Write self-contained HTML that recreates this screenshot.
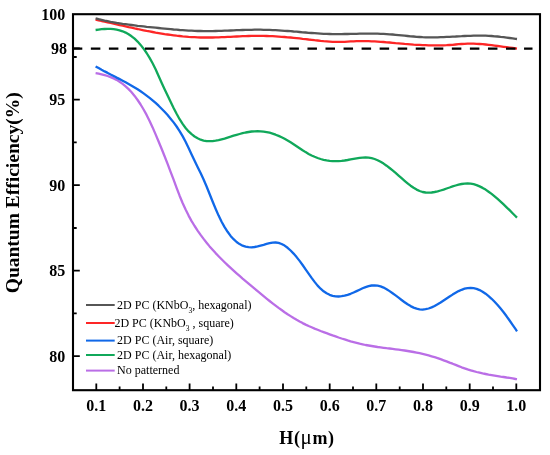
<!DOCTYPE html>
<html><head><meta charset="utf-8"><title>Quantum Efficiency vs H</title>
<style>html,body{margin:0;padding:0;background:#fff}svg{display:block}text{font-family:"Liberation Serif",serif;fill:#000}.b{font-weight:bold}</style></head><body>
<svg width="550" height="455" viewBox="0 0 550 455">
<rect width="550" height="455" fill="#fff"/>
<path d="M95.6,73.2 L98.6,73.7 L101.6,74.3 L104.6,75.1 L107.6,76.0 L110.6,77.1 L113.6,78.4 L116.6,79.9 L119.6,81.8 L122.6,83.9 L125.6,86.3 L128.6,89.1 L131.6,92.3 L134.6,95.9 L137.6,100.0 L140.6,104.5 L143.6,109.5 L146.6,114.9 L149.6,120.9 L152.6,127.4 L155.6,134.4 L158.6,141.5 L161.6,148.8 L164.6,156.3 L167.6,163.9 L170.6,171.8 L173.6,179.7 L176.6,187.8 L179.6,195.7 L182.6,203.0 L185.6,209.6 L188.6,215.6 L191.6,221.1 L194.6,226.0 L197.6,230.6 L200.6,234.9 L203.6,238.9 L206.6,242.7 L209.6,246.4 L212.6,249.8 L215.6,253.1 L218.6,256.2 L221.6,259.2 L224.6,262.2 L227.6,265.1 L230.6,267.9 L233.6,270.6 L236.6,273.3 L239.6,275.9 L242.6,278.6 L245.6,281.1 L248.6,283.7 L251.6,286.2 L254.6,288.7 L257.6,291.2 L260.6,293.7 L263.6,296.2 L266.6,298.6 L269.6,301.0 L272.6,303.3 L275.6,305.6 L278.6,307.9 L281.6,310.0 L284.6,312.2 L287.6,314.2 L290.6,316.1 L293.6,318.0 L296.6,319.8 L299.6,321.5 L302.6,323.1 L305.6,324.6 L308.6,326.0 L311.6,327.3 L314.6,328.6 L317.6,329.8 L320.6,331.0 L323.6,332.1 L326.6,333.2 L329.6,334.3 L332.6,335.4 L335.6,336.4 L338.6,337.5 L341.6,338.5 L344.6,339.4 L347.6,340.4 L350.6,341.3 L353.6,342.1 L356.6,342.9 L359.6,343.7 L362.6,344.3 L365.6,345.0 L368.6,345.5 L371.6,346.0 L374.6,346.5 L377.6,347.0 L380.6,347.4 L383.6,347.8 L386.6,348.2 L389.6,348.5 L392.6,348.9 L395.6,349.3 L398.6,349.7 L401.6,350.1 L404.6,350.5 L407.6,351.0 L410.6,351.5 L413.6,352.0 L416.6,352.6 L419.6,353.2 L422.6,353.9 L425.6,354.6 L428.6,355.4 L431.6,356.3 L434.6,357.2 L437.6,358.1 L440.6,359.2 L443.6,360.3 L446.6,361.4 L449.6,362.6 L452.6,363.7 L455.6,364.9 L458.6,366.1 L461.6,367.3 L464.6,368.3 L467.6,369.4 L470.6,370.3 L473.6,371.2 L476.6,372.0 L479.6,372.7 L482.6,373.4 L485.6,374.0 L488.6,374.6 L491.6,375.1 L494.6,375.6 L497.6,376.1 L500.6,376.6 L503.6,377.0 L506.6,377.5 L509.6,377.9 L512.6,378.4 L515.6,379.0 L517.0,379.2" fill="none" stroke="#ba6ee6" stroke-width="2.3" stroke-linejoin="round"/>
<path d="M95.6,30.0 L98.6,29.6 L101.6,29.2 L104.6,29.0 L107.6,28.9 L110.6,28.9 L113.6,29.2 L116.6,29.6 L119.6,30.3 L122.6,31.3 L125.6,32.6 L128.6,34.3 L131.6,36.3 L134.6,38.7 L137.6,41.6 L140.6,44.9 L143.6,48.7 L146.6,53.0 L149.6,57.9 L152.6,63.3 L155.6,69.3 L158.6,76.0 L161.6,82.7 L164.6,89.2 L167.6,95.6 L170.6,101.8 L173.6,108.0 L176.6,113.8 L179.6,119.2 L182.6,123.9 L185.6,128.0 L188.6,131.4 L191.6,134.2 L194.6,136.5 L197.6,138.3 L200.6,139.7 L203.6,140.6 L206.6,141.1 L209.6,141.2 L212.6,141.1 L215.6,140.7 L218.6,140.2 L221.6,139.4 L224.6,138.6 L227.6,137.6 L230.6,136.7 L233.6,135.7 L236.6,134.8 L239.6,134.0 L242.6,133.2 L245.6,132.5 L248.6,132.0 L251.6,131.5 L254.6,131.3 L257.6,131.2 L260.6,131.3 L263.6,131.6 L266.6,132.1 L269.6,132.7 L272.6,133.6 L275.6,134.7 L278.6,135.9 L281.6,137.3 L284.6,138.8 L287.6,140.5 L290.6,142.3 L293.6,144.2 L296.6,146.2 L299.6,148.2 L302.6,150.2 L305.6,152.1 L308.6,153.9 L311.6,155.5 L314.6,156.8 L317.6,158.0 L320.6,159.0 L323.6,159.8 L326.6,160.4 L329.6,160.9 L332.6,161.1 L335.6,161.2 L338.6,161.1 L341.6,160.9 L344.6,160.5 L347.6,160.0 L350.6,159.4 L353.6,158.9 L356.6,158.4 L359.6,157.9 L362.6,157.6 L365.6,157.4 L368.6,157.6 L371.6,158.1 L374.6,159.0 L377.6,160.2 L380.6,161.8 L383.6,163.6 L386.6,165.7 L389.6,168.0 L392.6,170.4 L395.6,172.9 L398.6,175.6 L401.6,178.2 L404.6,180.8 L407.6,183.3 L410.6,185.7 L413.6,187.8 L416.6,189.6 L419.6,191.0 L422.6,192.0 L425.6,192.5 L428.6,192.7 L431.6,192.5 L434.6,192.0 L437.6,191.4 L440.6,190.5 L443.6,189.6 L446.6,188.5 L449.6,187.5 L452.6,186.4 L455.6,185.5 L458.6,184.6 L461.6,184.0 L464.6,183.6 L467.6,183.5 L470.6,183.7 L473.6,184.2 L476.6,185.1 L479.6,186.4 L482.6,187.9 L485.6,189.6 L488.6,191.7 L491.6,193.9 L494.6,196.3 L497.6,198.9 L500.6,201.6 L503.6,204.4 L506.6,207.3 L509.6,210.2 L512.6,213.2 L515.6,216.2 L517.0,217.6" fill="none" stroke="#10a85a" stroke-width="2.3" stroke-linejoin="round"/>
<path d="M95.6,66.4 L98.6,68.1 L101.6,69.8 L104.6,71.4 L107.6,72.9 L110.6,74.5 L113.6,76.0 L116.6,77.6 L119.6,79.1 L122.6,80.7 L125.6,82.3 L128.6,84.0 L131.6,85.7 L134.6,87.5 L137.6,89.3 L140.6,91.3 L143.6,93.4 L146.6,95.6 L149.6,97.9 L152.6,100.3 L155.6,102.9 L158.6,105.7 L161.6,108.7 L164.6,111.8 L167.6,115.1 L170.6,118.7 L173.6,122.4 L176.6,126.5 L179.6,131.1 L182.6,136.1 L185.6,141.7 L188.6,147.9 L191.6,154.4 L194.6,160.7 L197.6,166.9 L200.6,173.0 L203.6,179.5 L206.6,186.5 L209.6,194.0 L212.6,201.5 L215.6,208.7 L218.6,215.6 L221.6,221.7 L224.6,227.1 L227.6,231.8 L230.6,235.9 L233.6,239.2 L236.6,242.0 L239.6,244.1 L242.6,245.7 L245.6,246.7 L248.6,247.2 L251.6,247.3 L254.6,247.0 L257.6,246.4 L260.6,245.6 L263.6,244.8 L266.6,243.9 L269.6,243.2 L272.6,242.6 L275.6,242.5 L278.6,242.9 L281.6,244.0 L284.6,245.6 L287.6,247.8 L290.6,250.5 L293.6,253.6 L296.6,257.1 L299.6,260.9 L302.6,265.0 L305.6,269.3 L308.6,273.6 L311.6,277.9 L314.6,281.9 L317.6,285.6 L320.6,288.7 L323.6,291.3 L326.6,293.3 L329.6,294.8 L332.6,295.8 L335.6,296.3 L338.6,296.5 L341.6,296.2 L344.6,295.7 L347.6,294.8 L350.6,293.8 L353.6,292.5 L356.6,291.1 L359.6,289.7 L362.6,288.3 L365.6,287.1 L368.6,286.1 L371.6,285.5 L374.6,285.3 L377.6,285.6 L380.6,286.4 L383.6,287.6 L386.6,289.2 L389.6,291.1 L392.6,293.2 L395.6,295.4 L398.6,297.7 L401.6,300.0 L404.6,302.2 L407.6,304.3 L410.6,306.1 L413.6,307.6 L416.6,308.7 L419.6,309.4 L422.6,309.6 L425.6,309.2 L428.6,308.5 L431.6,307.4 L434.6,306.0 L437.6,304.3 L440.6,302.5 L443.6,300.5 L446.6,298.5 L449.6,296.5 L452.6,294.6 L455.6,292.8 L458.6,291.1 L461.6,289.8 L464.6,288.7 L467.6,288.1 L470.6,287.9 L473.6,288.2 L476.6,288.9 L479.6,290.1 L482.6,291.7 L485.6,293.7 L488.6,296.1 L491.6,298.8 L494.6,301.8 L497.6,305.0 L500.6,308.6 L503.6,312.3 L506.6,316.3 L509.6,320.5 L512.6,324.8 L515.6,329.2 L517.0,331.3" fill="none" stroke="#1068e8" stroke-width="2.3" stroke-linejoin="round"/>
<path d="M95.6,19.6 L98.6,20.3 L101.6,21.0 L104.6,21.6 L107.6,22.3 L110.6,23.0 L113.6,23.7 L116.6,24.4 L119.6,25.1 L122.6,25.7 L125.6,26.4 L128.6,27.1 L131.6,27.7 L134.6,28.4 L137.6,29.0 L140.6,29.7 L143.6,30.3 L146.6,30.9 L149.6,31.4 L152.6,32.0 L155.6,32.6 L158.6,33.1 L161.6,33.6 L164.6,34.1 L167.6,34.5 L170.6,34.9 L173.6,35.3 L176.6,35.7 L179.6,36.0 L182.6,36.4 L185.6,36.6 L188.6,36.9 L191.6,37.1 L194.6,37.2 L197.6,37.4 L200.6,37.5 L203.6,37.5 L206.6,37.5 L209.6,37.5 L212.6,37.5 L215.6,37.4 L218.6,37.3 L221.6,37.2 L224.6,37.1 L227.6,36.9 L230.6,36.8 L233.6,36.6 L236.6,36.5 L239.6,36.4 L242.6,36.2 L245.6,36.1 L248.6,36.0 L251.6,35.9 L254.6,35.9 L257.6,35.9 L260.6,35.9 L263.6,35.9 L266.6,36.0 L269.6,36.1 L272.6,36.2 L275.6,36.4 L278.6,36.6 L281.6,36.8 L284.6,37.0 L287.6,37.3 L290.6,37.5 L293.6,37.8 L296.6,38.1 L299.6,38.4 L302.6,38.8 L305.6,39.1 L308.6,39.5 L311.6,39.8 L314.6,40.2 L317.6,40.5 L320.6,40.9 L323.6,41.2 L326.6,41.4 L329.6,41.6 L332.6,41.8 L335.6,41.9 L338.6,41.9 L341.6,41.9 L344.6,41.8 L347.6,41.6 L350.6,41.4 L353.6,41.3 L356.6,41.1 L359.6,41.1 L362.6,41.1 L365.6,41.1 L368.6,41.2 L371.6,41.3 L374.6,41.4 L377.6,41.6 L380.6,41.8 L383.6,42.0 L386.6,42.3 L389.6,42.5 L392.6,42.8 L395.6,43.1 L398.6,43.3 L401.6,43.6 L404.6,43.9 L407.6,44.1 L410.6,44.3 L413.6,44.6 L416.6,44.8 L419.6,44.9 L422.6,45.1 L425.6,45.2 L428.6,45.3 L431.6,45.4 L434.6,45.4 L437.6,45.4 L440.6,45.4 L443.6,45.3 L446.6,45.2 L449.6,45.0 L452.6,44.8 L455.6,44.5 L458.6,44.2 L461.6,44.0 L464.6,43.8 L467.6,43.7 L470.6,43.7 L473.6,43.7 L476.6,43.8 L479.6,44.0 L482.6,44.2 L485.6,44.5 L488.6,44.8 L491.6,45.2 L494.6,45.6 L497.6,46.0 L500.6,46.4 L503.6,46.8 L506.6,47.2 L509.6,47.6 L512.6,48.0 L515.6,48.4 L517.0,48.6" fill="none" stroke="#fd2626" stroke-width="2.3" stroke-linejoin="round"/>
<path d="M95.6,18.4 L98.6,19.2 L101.6,19.9 L104.6,20.6 L107.6,21.2 L110.6,21.8 L113.6,22.3 L116.6,22.9 L119.6,23.3 L122.6,23.8 L125.6,24.2 L128.6,24.6 L131.6,25.0 L134.6,25.4 L137.6,25.8 L140.6,26.1 L143.6,26.4 L146.6,26.8 L149.6,27.1 L152.6,27.4 L155.6,27.7 L158.6,28.0 L161.6,28.3 L164.6,28.6 L167.6,28.9 L170.6,29.2 L173.6,29.5 L176.6,29.7 L179.6,30.0 L182.6,30.2 L185.6,30.4 L188.6,30.6 L191.6,30.7 L194.6,30.9 L197.6,31.0 L200.6,31.0 L203.6,31.1 L206.6,31.1 L209.6,31.1 L212.6,31.1 L215.6,31.0 L218.6,30.9 L221.6,30.8 L224.6,30.7 L227.6,30.6 L230.6,30.5 L233.6,30.4 L236.6,30.2 L239.6,30.1 L242.6,30.0 L245.6,29.9 L248.6,29.8 L251.6,29.8 L254.6,29.7 L257.6,29.7 L260.6,29.7 L263.6,29.8 L266.6,29.8 L269.6,29.9 L272.6,30.1 L275.6,30.2 L278.6,30.4 L281.6,30.6 L284.6,30.8 L287.6,31.0 L290.6,31.2 L293.6,31.5 L296.6,31.7 L299.6,32.0 L302.6,32.3 L305.6,32.5 L308.6,32.8 L311.6,33.0 L314.6,33.2 L317.6,33.4 L320.6,33.6 L323.6,33.8 L326.6,33.9 L329.6,34.0 L332.6,34.1 L335.6,34.1 L338.6,34.1 L341.6,34.1 L344.6,34.0 L347.6,34.0 L350.6,33.9 L353.6,33.9 L356.6,33.8 L359.6,33.7 L362.6,33.7 L365.6,33.6 L368.6,33.6 L371.6,33.6 L374.6,33.6 L377.6,33.7 L380.6,33.8 L383.6,33.9 L386.6,34.1 L389.6,34.3 L392.6,34.5 L395.6,34.8 L398.6,35.1 L401.6,35.4 L404.6,35.7 L407.6,36.0 L410.6,36.3 L413.6,36.5 L416.6,36.8 L419.6,37.0 L422.6,37.2 L425.6,37.3 L428.6,37.3 L431.6,37.4 L434.6,37.3 L437.6,37.3 L440.6,37.2 L443.6,37.1 L446.6,36.9 L449.6,36.8 L452.6,36.6 L455.6,36.5 L458.6,36.3 L461.6,36.2 L464.6,36.0 L467.6,35.9 L470.6,35.8 L473.6,35.7 L476.6,35.6 L479.6,35.6 L482.6,35.6 L485.6,35.7 L488.6,35.8 L491.6,36.0 L494.6,36.3 L497.6,36.5 L500.6,36.9 L503.6,37.2 L506.6,37.6 L509.6,38.0 L512.6,38.4 L515.6,38.8 L517.0,39.0" fill="none" stroke="#565656" stroke-width="2.3" stroke-linejoin="round"/>
<line x1="72.8" y1="48.6" x2="532.5" y2="48.6" stroke="#000" stroke-width="2.1" stroke-dasharray="9.5 8.55"/>
<rect x="73.0" y="14.2" width="467.0" height="376.0" fill="none" stroke="#000" stroke-width="2.1"/>
<path d="M96.3,390.2 V383.4 M119.6,390.2 V386.5 M143.0,390.2 V383.4 M166.3,390.2 V386.5 M189.6,390.2 V383.4 M213.0,390.2 V386.5 M236.3,390.2 V383.4 M259.6,390.2 V386.5 M283.0,390.2 V383.4 M306.3,390.2 V386.5 M329.7,390.2 V383.4 M353.0,390.2 V386.5 M376.3,390.2 V383.4 M399.7,390.2 V386.5 M423.0,390.2 V383.4 M446.3,390.2 V386.5 M469.7,390.2 V383.4 M493.0,390.2 V386.5 M516.3,390.2 V383.4 M73.0,99.7 H79.8 M73.0,185.2 H79.8 M73.0,270.7 H79.8 M73.0,356.2 H79.8 M73.0,48.4 H79.8 M73.0,57.0 H76.7 M73.0,142.4 H76.7 M73.0,228.0 H76.7 M73.0,313.4 H76.7" fill="none" stroke="#000" stroke-width="1.8"/>
<text class="b" x="96.3" y="410.8" font-size="16" text-anchor="middle">0.1</text>
<text class="b" x="143.0" y="410.8" font-size="16" text-anchor="middle">0.2</text>
<text class="b" x="189.6" y="410.8" font-size="16" text-anchor="middle">0.3</text>
<text class="b" x="236.3" y="410.8" font-size="16" text-anchor="middle">0.4</text>
<text class="b" x="283.0" y="410.8" font-size="16" text-anchor="middle">0.5</text>
<text class="b" x="329.7" y="410.8" font-size="16" text-anchor="middle">0.6</text>
<text class="b" x="376.3" y="410.8" font-size="16" text-anchor="middle">0.7</text>
<text class="b" x="423.0" y="410.8" font-size="16" text-anchor="middle">0.8</text>
<text class="b" x="469.7" y="410.8" font-size="16" text-anchor="middle">0.9</text>
<text class="b" x="516.3" y="410.8" font-size="16" text-anchor="middle">1.0</text>
<text class="b" x="65.2" y="19.6" font-size="16" text-anchor="end">100</text>
<text class="b" x="66.9" y="53.8" font-size="16" text-anchor="end">98</text>
<text class="b" x="65.2" y="105.1" font-size="16" text-anchor="end">95</text>
<text class="b" x="65.2" y="190.6" font-size="16" text-anchor="end">90</text>
<text class="b" x="65.2" y="276.1" font-size="16" text-anchor="end">85</text>
<text class="b" x="65.2" y="361.6" font-size="16" text-anchor="end">80</text>
<text class="b" x="307" y="443.5" font-size="18" text-anchor="middle" letter-spacing="0.6">H(<tspan font-weight="normal" font-size="21">μ</tspan>m)</text>
<text class="b" transform="translate(19.2,192.8) rotate(-90)" font-size="19.5" text-anchor="middle">Quantum Efficiency(%)</text>
<line x1="86" y1="305" x2="114.7" y2="305" stroke="#565656" stroke-width="2"/>
<text x="117.1" y="309.4" font-size="12">2D PC (KNbO<tspan font-size="7.5" dy="3.5">3</tspan><tspan dy="-3.5">, hexagonal)</tspan></text>
<line x1="86" y1="323" x2="114.7" y2="323" stroke="#fd2626" stroke-width="2"/>
<text x="114.4" y="327" font-size="12">2D PC (KNbO<tspan font-size="7.5" dy="3.5">3</tspan><tspan dy="-3.5"> , square)</tspan></text>
<line x1="86" y1="340.6" x2="114.7" y2="340.6" stroke="#1068e8" stroke-width="2"/>
<text x="117.1" y="344.4" font-size="12">2D PC (Air, square)</text>
<line x1="86" y1="355" x2="114.7" y2="355" stroke="#10a85a" stroke-width="2"/>
<text x="117.1" y="359.4" font-size="12">2D PC (Air, hexagonal)</text>
<line x1="86" y1="370.6" x2="114.7" y2="370.6" stroke="#ba6ee6" stroke-width="2"/>
<text x="117.1" y="374.4" font-size="12">No patterned</text>
</svg></body></html>
